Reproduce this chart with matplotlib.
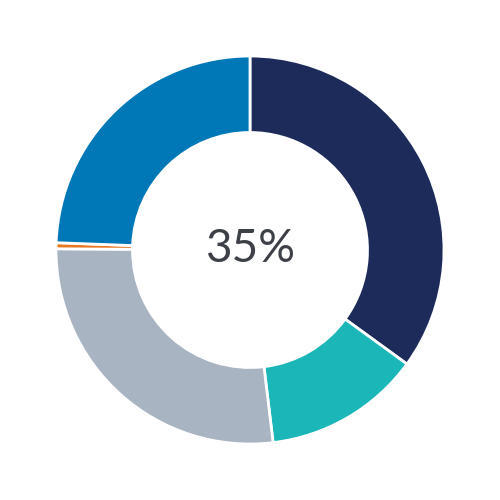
import matplotlib.pyplot as plt

labels = ['A', 'B', 'C', 'D', 'E']
values = [35.0, 13.1, 27.0, 0.5, 24.4]
colors = ['#1c2b5a', '#1ab6b8', '#a9b4c3', '#e87722', '#0077b6']
center_text = '35%'

fig = plt.figure(figsize=(5, 5), dpi=100)
ax = fig.add_axes([0, 0, 1, 1])
ax.pie(values, colors=colors, startangle=90, counterclock=False,
       radius=0.776, wedgeprops=dict(width=0.306, edgecolor='white', linewidth=2))
ax.text(0, 0.005, center_text, ha='center', va='center', fontsize=33,
        family='Lato', color='#3d4047')
ax.set_xlim(-1, 1)
ax.set_ylim(-1, 1)
ax.set_aspect('equal')
ax.axis('off')
plt.savefig('out.png', dpi=100)
